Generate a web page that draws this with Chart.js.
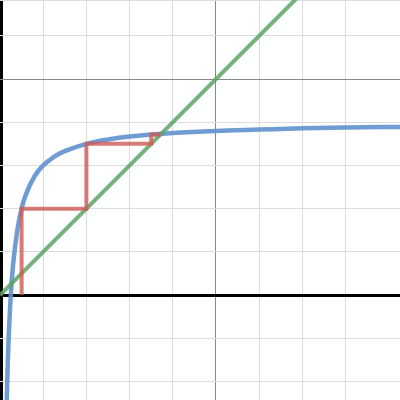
<!DOCTYPE html><html><head><script src="https://cdn.jsdelivr.net/npm/chart.js@4"></script>
<style>html,body{margin:0;background:#fff}</style></head><body>
<div style="width:400px;height:400px"><canvas id="c"></canvas></div>
<script>
const curveX=[0.155,0.18,0.2,0.25,0.3,0.4,0.5,0.6,0.8,1,1.25,1.5,2,2.5,3,4,5,6,7,8,9.3];
const curveY=[-2.45,-1.56,-1,0,0.67,1.5,2,2.33,2.75,3,3.2,3.33,3.5,3.6,3.67,3.75,3.8,3.83,3.86,3.88,3.89];
const lineX=[0,7];
const lineY=[0,7];
const webX=[0.5,0.5,2,2,3.5,3.5,3.714];
const webY=[0,2,2,3.5,3.5,3.714,3.714];
const pts=(xs,ys)=>xs.map((x,i)=>({x,y:ys[i]}));
const gridCol=c=>c.tick.value===0?'#000':(c.tick.value%5===0?'#888':'#ddd');
const gridW=c=>c.tick.value===0?(c.scale.axis==='x'?6:3):1;
new Chart(document.getElementById('c'),{type:'scatter',data:{datasets:[
{data:pts(webX,webY),showLine:true,borderColor:'rgba(205,90,85,0.8)',borderWidth:4,pointRadius:0,tension:0},
{data:pts(lineX,lineY),showLine:true,borderColor:'rgba(90,165,100,0.85)',borderWidth:4,pointRadius:0},
{data:pts(curveX,curveY),showLine:true,borderColor:'rgba(95,145,205,0.9)',borderWidth:4.5,pointRadius:0,cubicInterpolationMode:'monotone'}
]},options:{animation:false,responsive:true,maintainAspectRatio:false,layout:{padding:0},
plugins:{legend:{display:false},tooltip:{enabled:false}},
scales:{x:{type:'linear',min:0,max:9.26,ticks:{display:false,stepSize:1},border:{display:false},grid:{drawTicks:false,color:gridCol,lineWidth:gridW}},
y:{type:'linear',min:-2.43,max:6.83,ticks:{display:false,stepSize:1},border:{display:false},grid:{drawTicks:false,color:gridCol,lineWidth:gridW}}}}});
</script></body></html>
